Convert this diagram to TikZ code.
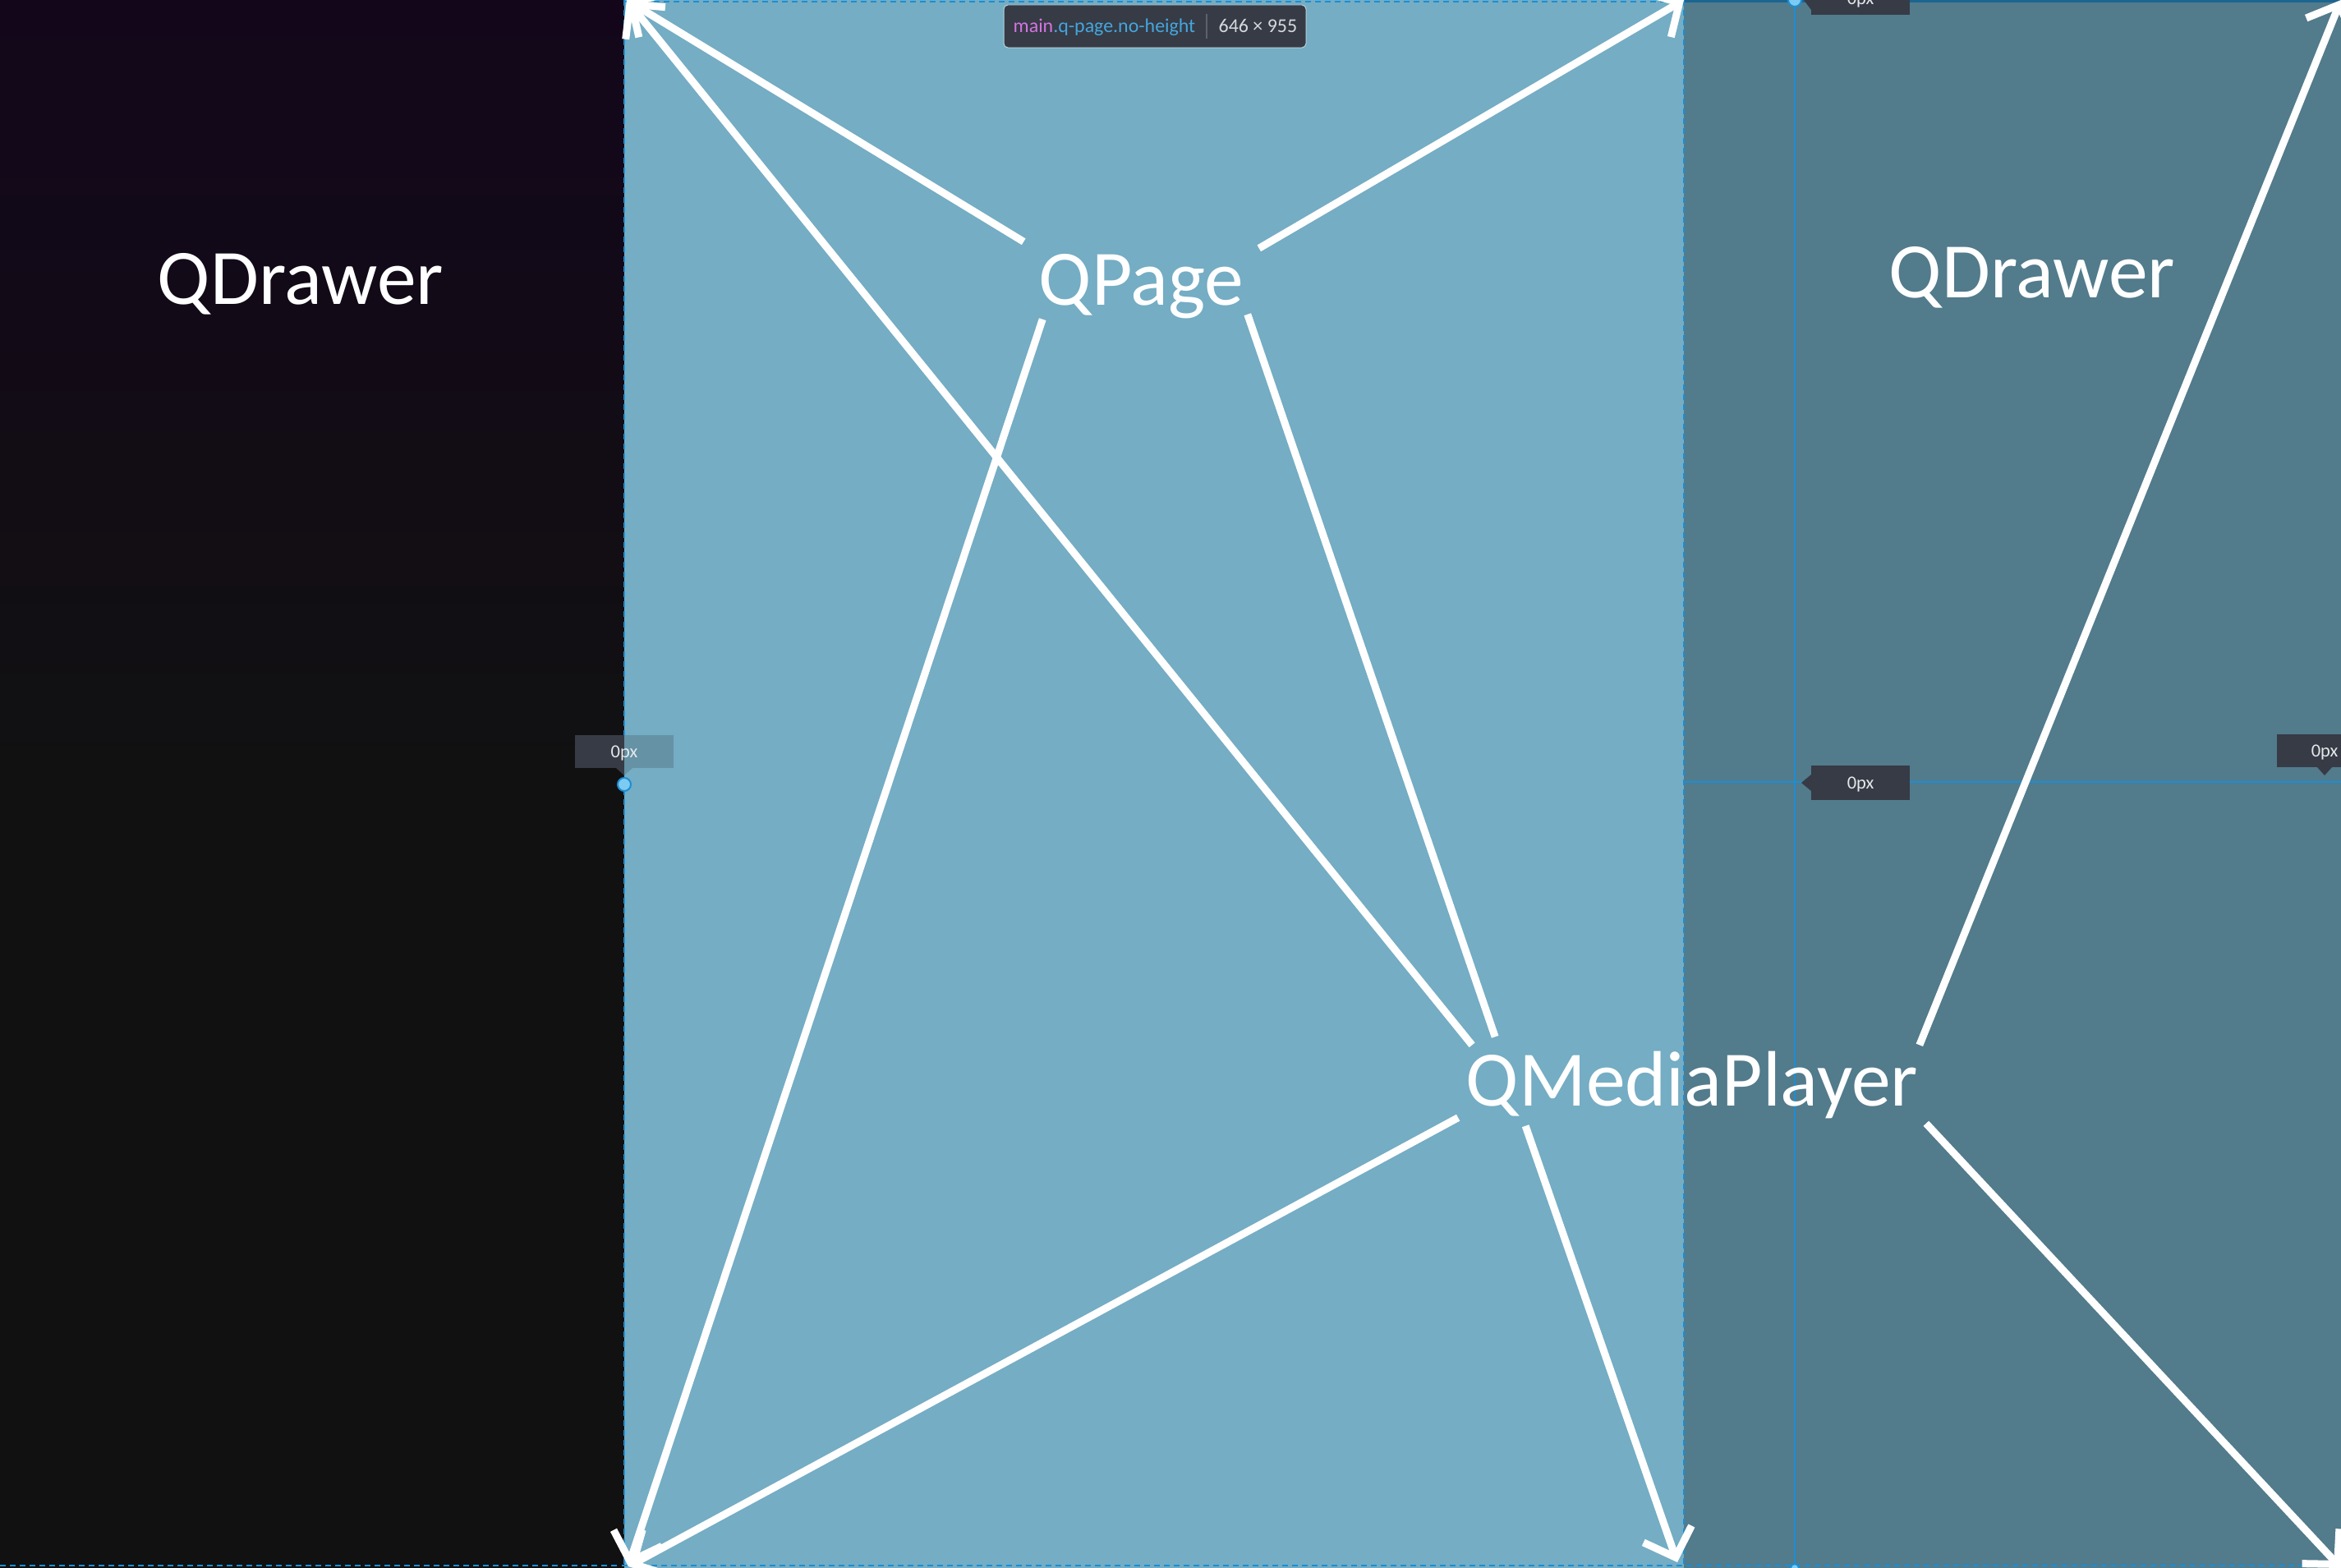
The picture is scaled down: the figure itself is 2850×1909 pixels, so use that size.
\documentclass[tikz,border=0pt]{standalone}
\usepackage{fontspec}
\setmainfont{Carlito}
\usepackage{xcolor}
\usepackage{tikz}
\usetikzlibrary{arrows.meta}

\definecolor{pagebg}{HTML}{74ADC4}
\definecolor{drawerbg}{HTML}{527B8C}
\definecolor{leftbgtop}{HTML}{13061B}
\definecolor{leftbg}{HTML}{111111}
\definecolor{guide}{HTML}{1C8ED4}
\definecolor{guidedark}{HTML}{1B6590}
\definecolor{tagbg}{HTML}{363B45}
\definecolor{tagbgpage}{HTML}{6592A5}
\definecolor{tagtext}{HTML}{E4E7EA}
\definecolor{tipborder}{HTML}{B8D4E0}
\definecolor{selmain}{HTML}{D474E2}
\definecolor{selclass}{HTML}{45A6DE}
\definecolor{seldim}{HTML}{D5D9DE}
\definecolor{sepgray}{HTML}{5C626C}
\definecolor{markfill}{HTML}{7DCBF2}

\tikzset{
  compname/.style={text=white, font=\fontsize{27.2}{31}\selectfont, inner sep=0pt, text height=17.2pt, text depth=0pt},
  link/.style={white, line width=0.09cm},
  linkarrow/.style={link, -{Straight Barb[length=0.3cm,width=0.62cm]}},
  pagedash/.style={guide, line width=0.02cm, dash pattern=on 0.07cm off 0.05cm},
  pxtext/.style={text=tagtext, font=\fontsize{6.4}{7}\selectfont, inner sep=0pt, text height=4pt, text depth=0pt},
  tiptext/.style={font=\fontsize{6.8}{8}\selectfont, inner sep=0pt, anchor=base west},
}

\begin{document}
\begin{tikzpicture}[x=0.01cm, y=-0.01cm]
\useasboundingbox (0,0) rectangle (2850,1909);
\clip (0,0) rectangle (2850,1909);

\shade [top color=leftbgtop, bottom color=leftbg] (0,0) rectangle (760,950);
\fill [leftbg] (0,949) rectangle (760,1909);
\fill [pagebg] (760,0) rectangle (2050,1909);
\fill [drawerbg] (2050,0) rectangle (2850,1909);

\draw [guide, line width=0.02cm] (2185,0) -- (2185,1909);
\draw [guide, line width=0.02cm] (2050,952) -- (2850,952);
\draw [guidedark, line width=0.03cm] (2050,1) -- (2850,1);
\draw [pagedash] (760,2) -- (2050,2);
\draw [pagedash] (0,1906) -- (2850,1906);
\draw [pagedash] (760,0) -- (760,1909);
\draw [pagedash] (2050,0) -- (2050,1909);

\node [compname, minimum width=3.44cm] (drawerleft) at (366,340) {QDrawer};
\node [compname, minimum width=2.85cm, minimum height=0.93cm] (qpage) at (1389.5,341.5) {QPage};
\node [compname, minimum width=3.45cm] (drawerright) at (2474,332) {QDrawer};
\node [compname, minimum width=5.68cm, minimum height=1.07cm] (qmedia) at (2060,1316.5) {QMediaPlayer};

\coordinate (pagetl) at (763,0);
\coordinate (pagetr) at (2050,0);
\coordinate (pagebl) at (765,1907);
\coordinate (pagebr) at (2042,1902);
\coordinate (viewtr) at (2850,0);
\coordinate (viewbr) at (2850,1909);

\draw [linkarrow] (qpage.north west) -- (pagetl);
\draw [linkarrow] ([yshift=-0.08cm]qpage.north east) -- (pagetr);
\draw [linkarrow] ([xshift=0.23cm]qpage.south west) -- (pagebl);
\draw [link] ([xshift=-0.14cm,yshift=0.06cm]qpage.south east) -- ([xshift=0.45cm]qmedia.north west);
\draw [linkarrow] ([xshift=0.17cm,yshift=-0.1cm]qmedia.north west) -- (pagetl);
\draw [linkarrow] ([yshift=0.1cm]qmedia.south west) -- (pagebl);
\draw [linkarrow] ([xshift=0.82cm]qmedia.south west) -- (pagebr);
\draw [linkarrow] ([xshift=-0.08cm,yshift=-0.1cm]qmedia.north east) -- (viewtr);
\draw [linkarrow] ([yshift=0.03cm]qmedia.south east) -- (viewbr);

\fill [tagbg] (700,895) rectangle (760,935);
\fill [tagbgpage] (760,895) rectangle (820,935);
\fill [tagbg] (750,935) -- (760,944) -- (760,935) -- cycle;
\fill [tagbgpage] (760,935) -- (770,935) -- (760,944) -- cycle;
\node [pxtext] (pxleft) at (760,915) {0px};
\draw [guide, fill=markfill, line width=0.02cm] (760,955) circle (0.08cm);

\fill [tagbg] (2205,-22) rectangle (2325,18);
\fill [tagbg] (2196,0) -- (2205,0) -- (2205,12) -- cycle;
\node [pxtext] (pxtop) at (2265,-2) {0px};
\draw [guide, fill=markfill, line width=0.02cm] (2185,0) circle (0.08cm);

\fill [tagbg] (2205,932) rectangle (2325,974);
\fill [tagbg] (2205,943) -- (2193,953) -- (2205,963) -- cycle;
\node [pxtext] (pxmid) at (2265,953) {0px};

\fill [tagbg] (2772,894) rectangle (2890,934);
\fill [tagbg] (2821,934) -- (2830,944) -- (2839,934) -- cycle;
\node [pxtext] (pxright) at (2830,914) {0px};

\draw [guide, fill=markfill, line width=0.02cm] (2185,1909) circle (0.05cm);

\draw [fill=tagbg, draw=tipborder, line width=0.01cm, rounded corners=0.05cm] (1222,6) rectangle (1590,58);
\node [tiptext] (selname) at (1233,40) {\textcolor{selmain}{main}\textcolor{selclass}{.q-page.no-height}};
\draw [sepgray, line width=0.015cm] (1469,17) -- (1469,47);
\node [tiptext, text=seldim] (seldims) at (1483,40) {646 × 955};

\end{tikzpicture}
\end{document}
